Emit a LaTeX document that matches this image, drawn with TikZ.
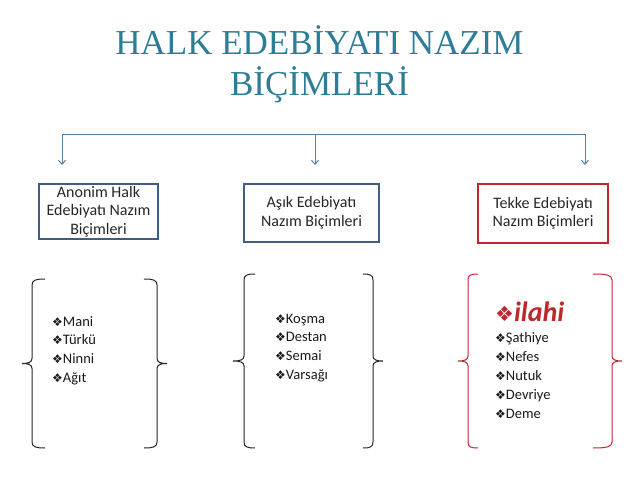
\documentclass[tikz,border=0pt]{standalone}
\usepackage{fontspec}
\usepackage{tikz}
\usetikzlibrary{arrows.meta}
\setmainfont{Carlito}
\newfontfamily\baslikfont{Liberation Serif}
\newfontfamily\sembolfont{DejaVu Sans}
\definecolor{baslik}{RGB}{45,125,150}
\definecolor{okrenk}{RGB}{90,126,162}
\definecolor{mavikutu}{RGB}{63,94,135}
\definecolor{kirmizi}{RGB}{192,39,45}
\newcommand{\madde}{{\sembolfont\fontsize{12}{12}\selectfont ❖}}
% #1 style, #2 x of line, #3 top, #4 bottom, #5 hook, #6 tip
\newcommand{\kume}[6]{%
  \draw[#1] ({#2+#5},#3) .. controls ({#2+0.3*#5},#3) and (#2,{#3+1}) .. (#2,{#3+6})
    -- (#2,{(#3+#4)/2-5}) .. controls (#2,{(#3+#4)/2-1}) and ({#2+0.4*#6},{(#3+#4)/2}) .. ({#2+#6},{(#3+#4)/2})
    .. controls ({#2+0.4*#6},{(#3+#4)/2}) and (#2,{(#3+#4)/2+1}) .. (#2,{(#3+#4)/2+5})
    -- (#2,{#4-6}) .. controls (#2,{#4-1}) and ({#2+0.3*#5},#4) .. ({#2+#5},#4);}
\tikzset{
  kutu/.style={draw=mavikutu, line width=1.5pt, align=center, inner sep=0pt,
    font=\fontsize{16}{18.5}\selectfont, text=black!85},
  ok/.style={draw=okrenk, line width=1pt, -{Straight Barb[length=4pt,width=7pt]}},
  parantez/.style={line width=1pt, black!85},
  liste/.style={anchor=base west, inner sep=0pt, font=\fontsize{14.5}{17}\selectfont, text=black!90},
}

\begin{document}
\begin{tikzpicture}[x=1pt,y=-1pt]
	\useasboundingbox (0,0) rectangle (638,479);
	\node[anchor=base, text=baslik, font=\baslikfont\fontsize{35}{40}\selectfont] (baslik1) at (319.5,54) {HALK EDEBİYATI NAZIM};
	\node[anchor=base, text=baslik, font=\baslikfont\fontsize{35}{40}\selectfont] (baslik2) at (319.5,95) {BİÇİMLERİ};
	\coordinate (dal1) at (62,134);
	\coordinate (dal2) at (315,134);
	\coordinate (dal3) at (585,134);
	\coordinate (uc1) at (62,165);
	\coordinate (uc2) at (315,165);
	\coordinate (uc3) at (585,165);
	\draw[draw=okrenk, line width=1pt] (dal1) -- (dal3);
	\draw[ok] (dal1) -- (uc1);
	\draw[ok] (dal2) -- (uc2);
	\draw[ok] (dal3) -- (uc3);
	\node[kutu, minimum width=119pt, minimum height=55pt] (anonim) at (98.5,211.5) {Anonim Halk\\Edebiyatı Nazım\\Biçimleri};
	\node[kutu, minimum width=135pt, minimum height=58pt] (asik) at (311.5,213) {Aşık Edebiyatı\\Nazım Biçimleri};
	\node[kutu, draw=kirmizi, minimum width=130pt, minimum height=59pt] (tekke) at (543,213.5) {Tekke Edebiyatı\\Nazım Biçimleri};
	% parantezler
	\kume{parantez}{32}{279}{448}{13}{-10}
	\kume{parantez}{157}{279}{448}{-13}{10}
	\kume{parantez}{244}{274}{448}{11}{-11}
	\kume{parantez}{373}{274}{448}{-10}{10}
	\kume{parantez, kirmizi}{468}{274}{448}{10}{-10}
	\kume{parantez, kirmizi}{612}{274}{448}{-19}{10}
	% anonim halk
	\node[liste] (mani) at (52,326) {\madde Mani};
	\node[liste] (turku) at (52,344.7) {\madde Türkü};
	\node[liste] (ninni) at (52,363.4) {\madde Ninni};
	\node[liste] (agit) at (52,382.1) {\madde Ağıt};
	% asik
	\node[liste] (kosma) at (275,323) {\madde Koşma};
	\node[liste] (destan) at (275,341.7) {\madde Destan};
	\node[liste] (semai) at (275,360.4) {\madde Semai};
	\node[liste] (varsagi) at (275,379.1) {\madde Varsağı};
	% tekke
	\node[liste, text=kirmizi, font=\fontsize{28}{30}\selectfont\bfseries\itshape] (ilahi) at (495,321) {{\sembolfont\fontsize{21}{21}\selectfont\upshape\mdseries ❖}ilahi};
	\node[liste] (sathiye) at (495,342) {\madde Şathiye};
	\node[liste] (nefes) at (495,361.2) {\madde Nefes};
	\node[liste] (nutuk) at (495,380.4) {\madde Nutuk};
	\node[liste] (devriye) at (495,399.6) {\madde Devriye};
	\node[liste] (deme) at (495,418.8) {\madde Deme};
\end{tikzpicture}
\end{document}
